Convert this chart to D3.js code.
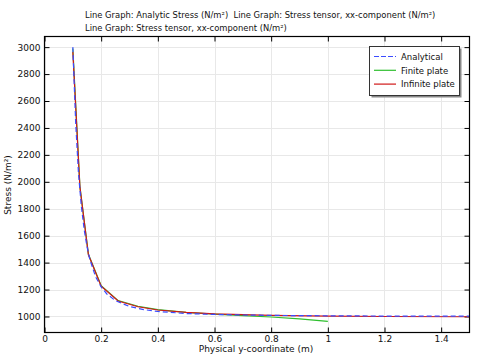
<!DOCTYPE html>
<html><head><meta charset="utf-8">
<script src="https://cdn.jsdelivr.net/npm/d3@7"></script>
<style>body{margin:0;background:#fff}svg{display:block;font-family:"DejaVu Sans",sans-serif}</style>
</head><body><svg id="c" width="479" height="360"></svg>
<script>
const titleLines = ["Line Graph: Analytic Stress (N/m²)  Line Graph: Stress tensor, xx-component (N/m²)", "Line Graph: Stress tensor, xx-component (N/m²)"];
const xLabel = "Physical y-coordinate (m)";
const yLabel = "Stress (N/m²)";
const xTicks = [0,0.2,0.4,0.6,0.8,1,1.2,1.4];
const yTicks = [1000,1200,1400,1600,1800,2000,2200,2400,2600,2800,3000];
const seriesNames = ["Analytical","Finite plate","Infinite plate"];
const analyticalX = [0.1,0.11,0.12,0.13,0.14,0.15,0.16,0.18,0.2,0.22,0.25,0.3,0.35,0.4,0.5,0.6,0.7,0.8,1.0,1.2,1.5];
const analyticalY = [3000,2440,2060,1820,1645,1518,1424,1297,1219,1167,1118,1074,1051,1037,1022,1015,1011,1008,1005,1003,1002];
const finiteX = [0.1,0.125,0.155,0.2,0.26,0.33,0.4,0.5,0.6,0.7,0.8,0.9,1.0];
const finiteY = [2990,1965,1462,1228,1118,1076,1051,1031,1017,1007,996,982,963];
const infiniteX = [0.1,0.125,0.155,0.2,0.26,0.33,0.4,0.5,0.6,0.7,0.8,1.0,1.2,1.5];
const infiniteY = [2965,1960,1458,1225,1115,1072,1048,1030,1019,1013,1008,1003,1000,998];

const svg = d3.select("#c");
const L=44.5, R=469.5, T=36.5, B=332.5;
const x = d3.scaleLinear().domain([0,1.5]).range([L,R]);
const y = d3.scaleLinear().domain([881,3079]).range([B,T]);

// grid
const g = svg.append("g");
g.selectAll(".gx").data(xTicks).join("line").attr("x1",d=>Math.round(x(d))+0.5).attr("x2",d=>Math.round(x(d))+0.5).attr("y1",T).attr("y2",B).attr("stroke","#e8e8e8");
g.selectAll(".gy").data(yTicks).join("line").attr("y1",d=>Math.round(y(d))+0.5).attr("y2",d=>Math.round(y(d))+0.5).attr("x1",L).attr("x2",R).attr("stroke","#e8e8e8");

// axes
const ax = d3.axisBottom(x).tickValues(xTicks).tickFormat(d3.format("~g")).tickSizeInner(-5).tickSizeOuter(0).tickPadding(3);
const ay = d3.axisLeft(y).tickValues(yTicks).tickFormat(d3.format("d")).tickSizeInner(-5).tickSizeOuter(0).tickPadding(4);
const axt = d3.axisTop(x).tickValues(xTicks).tickFormat("").tickSizeInner(-5).tickSizeOuter(0);
const ayr = d3.axisRight(y).tickValues(yTicks).tickFormat("").tickSizeInner(-5).tickSizeOuter(0);
function style(s){s.select(".domain").remove();s.selectAll("line").attr("stroke","#000");s.selectAll("text").attr("font-size","9px").attr("fill","#111").attr("font-family","DejaVu Sans");}
svg.append("g").attr("transform",`translate(0,${B})`).call(ax).call(style);
svg.append("g").attr("transform",`translate(${L},0)`).call(ay).call(style);
svg.append("g").attr("transform",`translate(0,${T})`).call(axt).call(style);
svg.append("g").attr("transform",`translate(${R},0)`).call(ayr).call(style);

const line = d3.line().x(d=>x(d[0])).y(d=>y(d[1]));
const zip=(a,b)=>a.map((v,i)=>[v,b[i]]);
const plot = svg.append("g");
plot.append("path").datum(zip(finiteX,finiteY)).attr("d",line).attr("fill","none").attr("stroke","#2fbf2f").attr("stroke-width",1.2);
plot.append("path").datum(zip(infiniteX,infiniteY)).attr("d",line).attr("fill","none").attr("stroke","#d01818").attr("stroke-width",1.2);
plot.append("path").datum(zip(analyticalX,analyticalY)).attr("d",line).attr("fill","none").attr("stroke","#3b4cff").attr("stroke-width",1.2).attr("stroke-dasharray","5,3");

// frame
svg.append("rect").attr("x",L).attr("y",T).attr("width",R-L).attr("height",B-T).attr("fill","none").attr("stroke","#000").attr("stroke-width",1.2);

// titles
svg.selectAll(".tt").data(titleLines).join("text").attr("x",85).attr("y",(d,i)=>18+i*12.5).text(d=>d).attr("font-size","8.4px").attr("fill","#111").attr("xml:space","preserve").style("white-space","pre");
svg.append("text").attr("x",256).attr("y",352).attr("text-anchor","middle").attr("font-size","9px").attr("fill","#111").text(xLabel);
svg.append("text").attr("transform","translate(11,185) rotate(-90)").attr("text-anchor","middle").attr("font-size","9px").attr("fill","#111").text(yLabel);

// legend
const lg = svg.append("g");
lg.append("rect").attr("x",371.5).attr("y",48.5).attr("width",90).attr("height",49).attr("fill","#888");
lg.append("rect").attr("x",369.5).attr("y",46.5).attr("width",90).attr("height",49).attr("fill","#fff").attr("stroke","#333");
const colors=["#3b4cff","#2fbf2f","#d01818"];
const dashes=["5,2",null,null];
seriesNames.forEach((n,i)=>{
  const yy=56.5+i*13.8;
  lg.append("line").attr("x1",374).attr("x2",396).attr("y1",yy).attr("y2",yy).attr("stroke",colors[i]).attr("stroke-width",1.2).attr("stroke-dasharray",dashes[i]);
  lg.append("text").attr("x",401).attr("y",yy+3.2).attr("font-size","8.5px").attr("fill","#111").text(n);
});
</script></body></html>
